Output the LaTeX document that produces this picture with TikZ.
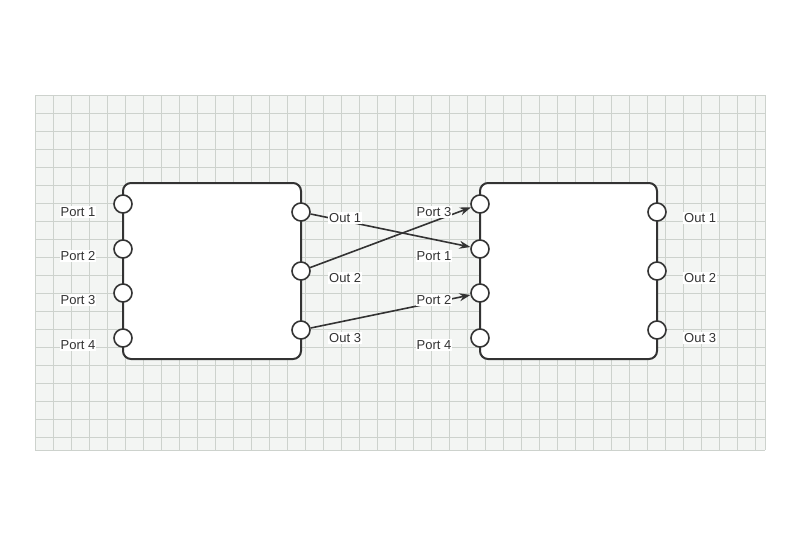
\documentclass[tikz,border=0pt]{standalone}
\usepackage{fontspec}
\setmainfont{Liberation Sans}
\usetikzlibrary{arrows.meta}
\definecolor{gridc}{HTML}{CDD2CD}
\definecolor{gridbg}{HTML}{F3F5F3}
\definecolor{ink}{HTML}{333333}
\tikzset{
  box/.style={draw=ink,line width=2pt,rounded corners=8pt,fill=white},
  port/.style={circle,draw=ink,line width=1.6pt,fill=white,minimum size=18pt,inner sep=0pt},
  lbl/.style={font=\fontsize{13}{15}\selectfont,text=ink,fill=white,inner sep=1pt},
  conn/.style={draw=ink,line width=1.6pt,-{Stealth[length=11pt,width=8pt]}}
}
\begin{document}
\begin{tikzpicture}[x=1pt,y=-1pt]
\useasboundingbox (0,0) rectangle (800,546);
\fill[gridbg] (35,95) rectangle (765,450);
\foreach \x in {35,53,...,765} \draw[gridc,line width=0.8pt] (\x,95) -- (\x,450);
\foreach \y in {95,113,...,450} \draw[gridc,line width=0.8pt] (35,\y) -- (765,\y);
\draw[gridc,line width=0.8pt] (765,95)--(765,450) (35,450)--(765,450);
% boxes
\draw[box] (123,183) rectangle (301,359);
\draw[box] (480,183) rectangle (657,359);
% ports
\node[port] (a1) at (123,204) {};
\node[port] (a2) at (123,249) {};
\node[port] (a3) at (123,293) {};
\node[port] (a4) at (123,338) {};
\node[port] (ao1) at (301,212) {};
\node[port] (ao2) at (301,271) {};
\node[port] (ao3) at (301,330) {};
\node[port] (b1) at (480,204) {};
\node[port] (b2) at (480,249) {};
\node[port] (b3) at (480,293) {};
\node[port] (b4) at (480,338) {};
\node[port] (bo1) at (657,212) {};
\node[port] (bo2) at (657,271) {};
\node[port] (bo3) at (657,330) {};
% connectors
\draw[conn] (ao1) -- (b2);
\draw[conn] (ao2) -- (b1);
\draw[conn] (ao3) -- (b3);
% labels
\node[lbl] (la1) at (78,212) {Port 1};
\node[lbl] (la2) at (78,256) {Port 2};
\node[lbl] (la3) at (78,300) {Port 3};
\node[lbl] (la4) at (78,345) {Port 4};
\node[lbl,anchor=west] (lo1) at (328,218) {Out 1};
\node[lbl,anchor=west] (lo2) at (328,278) {Out 2};
\node[lbl,anchor=west] (lo3) at (328,338) {Out 3};
\node[lbl] (lb1) at (434,212) {Port 3};
\node[lbl] (lb2) at (434,256) {Port 1};
\node[lbl] (lb3) at (434,300) {Port 2};
\node[lbl] (lb4) at (434,345) {Port 4};
\node[lbl,anchor=west] (lp1) at (683,218) {Out 1};
\node[lbl,anchor=west] (lp2) at (683,278) {Out 2};
\node[lbl,anchor=west] (lp3) at (683,338) {Out 3};
\end{tikzpicture}
\end{document}
